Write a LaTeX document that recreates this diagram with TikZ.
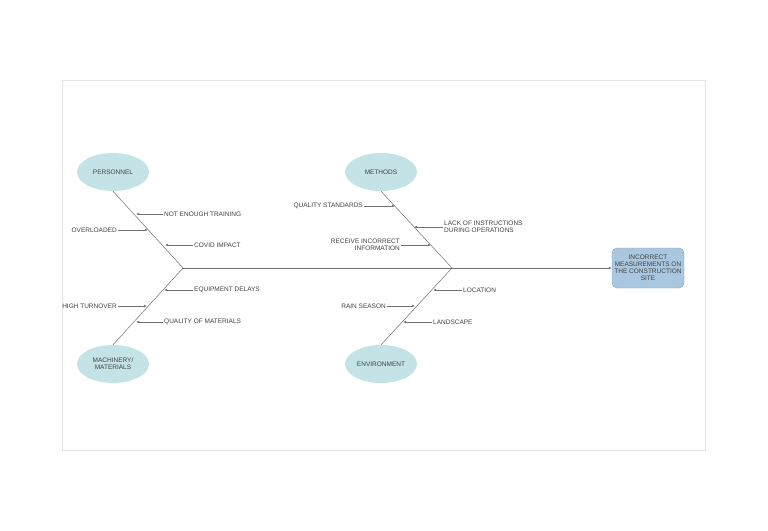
\documentclass[tikz,border=0pt]{standalone}
\usepackage{fontspec}
\setmainfont{Liberation Sans}
\usetikzlibrary{positioning, arrows.meta, shapes.geometric}
\definecolor{cause}{HTML}{C4E3E6}
\definecolor{effect}{HTML}{A9C8E0}
\definecolor{bone}{HTML}{707070}
\begin{document}
\begin{tikzpicture}[x=1pt, y=-1pt,
    txt/.style={font=\fontsize{6.5}{7}\selectfont, text=black!75, inner sep=1pt},
    cat/.style={ellipse, fill=cause, minimum width=72pt, minimum height=38pt, txt},
    line/.style={draw=bone, line width=0.5pt},
    arr/.style={line, -{Latex[length=3pt, width=2.5pt]}}]
    \useasboundingbox (0,0) rectangle (768,530);
    \draw[black!10] (62,80) rectangle (705,450);
    % effect
    \node[rounded corners=5pt, fill=effect, draw=effect!80!black, minimum width=72pt,
          minimum height=40pt, align=center, txt] (head) at (648,268)
          {INCORRECT\\MEASUREMENTS ON\\THE CONSTRUCTION\\SITE};
    % categories
    \node[cat] (pers) at (113,172) {PERSONNEL};
    \node[cat, align=center] (mach) at (113,364) {MACHINERY/\\MATERIALS};
    \node[cat] (meth) at (381,172) {METHODS};
    \node[cat] (env)  at (381,364) {ENVIRONMENT};
    \coordinate (j1) at (183,268);
    \coordinate (j2) at (452,268);
    % spine and bones
    \draw[line] (j1) -- (j2);
    \draw[arr] (j2) -- (head);
    \draw[line] (pers.south) -- (j1) -- (mach.north);
    \draw[line] (meth.south) -- (j2) -- (env.north);
    % sub-causes from the right
    \foreach \t/\x/\y/\b in {NOT ENOUGH TRAINING/163/214/136, COVID IMPACT/193/245/165,
        EQUIPMENT DELAYS/193/290/164, QUALITY OF MATERIALS/163/322/136,
        LOCATION/462/290/433, LANDSCAPE/432/322/403}
      {\node[txt, anchor=west] (r\x\y) at (\x,\y) {\t};
       \coordinate (b\x\y) at (\b,\y);
       \draw[arr] (r\x\y.west) -- (b\x\y);}
    \node[txt, anchor=west, align=left] (lack) at (443,227) {LACK OF INSTRUCTIONS\\DURING OPERATIONS};
    \coordinate (blk) at (414,227);
    \draw[arr] (lack.west) -- (blk);
    % sub-causes from the left
    \foreach \t/\x/\y/\b in {OVERLOADED/118/230/148, HIGH TURNOVER/118/306/147,
        QUALITY STANDARDS/364/206/395, RAIN SEASON/387/306/415}
      {\node[txt, anchor=east] (l\x\y) at (\x,\y) {\t};
       \coordinate (c\x\y) at (\b,\y);
       \draw[arr] (l\x\y.east) -- (c\x\y);}
    \node[txt, anchor=east, align=right] (recv) at (401,245) {RECEIVE INCORRECT\\INFORMATION};
    \coordinate (brc) at (431,245);
    \draw[arr] (recv.east) -- (brc);
\end{tikzpicture}
\end{document}
